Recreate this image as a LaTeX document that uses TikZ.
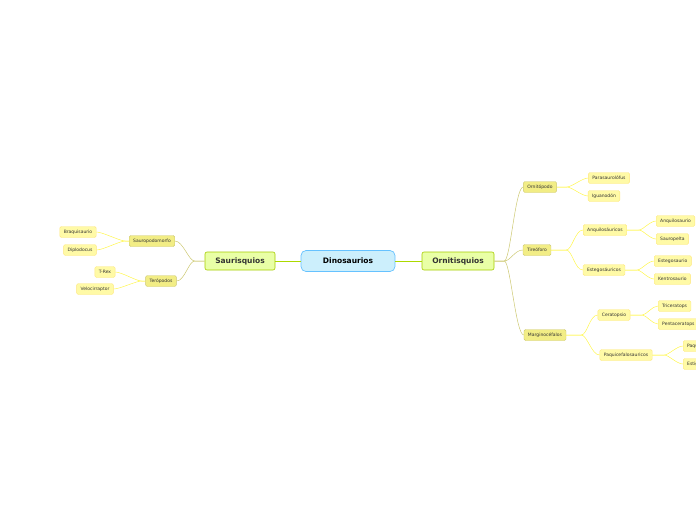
\documentclass[tikz,border=0pt]{standalone}
\usepackage{fontspec}
\setmainfont{DejaVu Sans}
\begin{document}
\begin{tikzpicture}[x=1pt,y=-1pt,
 root/.style={draw=blue!40!cyan!60, fill=cyan!20, rounded corners=5pt, minimum width=94pt, minimum height=21pt, font=\fontsize{7.5}{8}\selectfont\bfseries, line width=0.7pt},
 main/.style={draw=lime!60!olive, fill=lime!35, rounded corners=2pt, minimum height=18pt, font=\fontsize{7.5}{8}\selectfont\bfseries, text=black!80, line width=0.6pt},
 mid/.style={draw=olive!45, fill=olive!25!yellow!45, rounded corners=1.5pt, minimum height=11pt, inner xsep=4pt, inner ysep=1pt, font=\fontsize{4.5}{5}\selectfont, text=black!80},
 leaf/.style={draw=yellow!70!orange!50, fill=yellow!35, rounded corners=1.5pt, minimum height=11pt, inner xsep=4pt, inner ysep=1pt, font=\fontsize{4.5}{5}\selectfont, text=black!80},
 e1/.style={draw=lime!70!olive, line width=0.8pt},
 e2/.style={draw=olive!45, line width=0.5pt},
 e3/.style={draw=yellow!70, line width=0.5pt}]
\useasboundingbox (0,0) rectangle (696,520);
\clip (0,0) rectangle (696,520);
\node[root] (r) at (348,261) {Dinosaurios};
\node[main,minimum width=70pt] (s) at (240,261) {Saurisquios};
\node[main,minimum width=72pt] (o) at (458,261) {Ornitisquios};
\draw[e1] (r.west) -- (s.east);
\draw[e1] (r.east) -- (o.west);
\node[mid] (sp) at (152,241) {Sauropodomorfo};
\node[mid] (te) at (161,281) {Terópodos};
\node[leaf] (br) at (78,232) {Braquisaurio};
\node[leaf] (di) at (80,250) {Diplodocus};
\node[leaf] (tr) at (105,272) {T-Rex};
\node[leaf] (ve) at (95,289) {Velocirraptor};
\foreach \c in {sp,te} \draw[e2] (s.west) -- ++(-10,0) .. controls +(-6,0) and +(8,0) .. (\c.east);
\foreach \c in {br,di} \draw[e3] (sp.west) -- ++(-4,0) .. controls +(-5,0) and +(6,0) .. (\c.east);
\foreach \c in {tr,ve} \draw[e3] (te.west) -- ++(-4,0) .. controls +(-5,0) and +(6,0) .. (\c.east);
\node[mid] (or) at (540,187) {Ornitópodo};
\node[mid] (ti) at (537,250) {Tireóforo};
\node[mid] (ma) at (545,335) {Marginocéfalos};
\foreach \c in {or,ti,ma} \draw[e2] (o.east) -- ++(10,0) .. controls +(6,0) and +(-8,0) .. (\c.west);
\node[leaf] (pa) at (609,178) {Parasaurolófus};
\node[leaf] (ig) at (604,196) {Iguanodón};
\foreach \c in {pa,ig} \draw[e3] (or.east) -- ++(10,0) .. controls +(5,0) and +(-6,0) .. (\c.west);
\node[leaf] (an) at (605,230) {Anquilosáuricos};
\node[leaf] (es) at (604,270) {Estegosáuricos};
\foreach \c in {an,es} \draw[e3] (ti.east) -- ++(15,0) .. controls +(6,0) and +(-8,0) .. (\c.west);
\node[leaf] (ce) at (614,315) {Ceratopsio};
\node[leaf] (pq) at (626,355) {Paquicefalosauricos};
\foreach \c in {ce,pq} \draw[e3] (ma.east) -- ++(15,0) .. controls +(6,0) and +(-8,0) .. (\c.west);
\node[leaf,anchor=west] (a1) at (656,221) {Anquilosaurio};
\node[leaf,anchor=west] (a2) at (656,239) {Sauropelta};
\foreach \c in {a1,a2} \draw[e3] (an.east) -- ++(12,0) .. controls +(4,0) and +(-6,0) .. (\c.west);
\node[leaf,anchor=west] (k1) at (654,261) {Estegosaurio};
\node[leaf,anchor=west] (k2) at (654,279) {Kentrosaurio};
\foreach \c in {k1,k2} \draw[e3] (es.east) -- ++(12,0) .. controls +(4,0) and +(-6,0) .. (\c.west);
\node[leaf,anchor=west] (c1) at (658,306) {Triceratops};
\node[leaf,anchor=west] (c2) at (658,324) {Pentaceratops};
\foreach \c in {c1,c2} \draw[e3] (ce.east) -- ++(12,0) .. controls +(4,0) and +(-6,0) .. (\c.west);
\node[leaf,anchor=west] (p1) at (683,346) {Paquicefalosaurio};
\node[leaf,anchor=west] (p2) at (683,364) {Estigimoloch};
\foreach \c in {p1,p2} \draw[e3] (pq.east) -- ++(12,0) .. controls +(4,0) and +(-6,0) .. (\c.west);
\end{tikzpicture}
\end{document}
